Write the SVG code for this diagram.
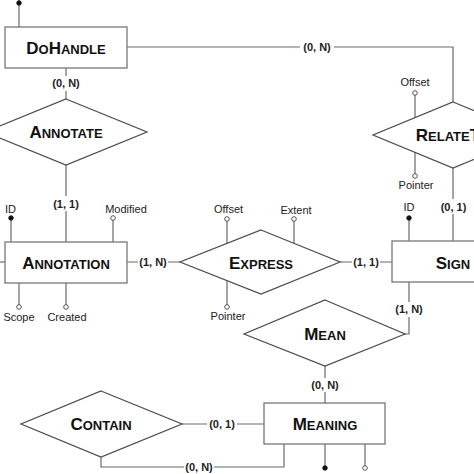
<svg xmlns="http://www.w3.org/2000/svg" width="474" height="474" viewBox="0 0 474 474">
<style>
.bg{fill:#ffffff}
.ent{fill:#ffffff;stroke:#777777;stroke-width:1.3}
.rel{fill:#ffffff;stroke:#4a4a4a;stroke-width:1.2}
.ln{fill:none;stroke:#6a6a6a;stroke-width:1.2}
.name{font-family:"Liberation Sans",Arial,sans-serif;font-weight:bold;fill:#111111;text-anchor:middle}
.b{font-size:17px}
.s{font-size:13px}
.card{font-family:"Liberation Sans",Arial,sans-serif;font-weight:bold;font-size:11px;fill:#222222;text-anchor:middle}
.attr{font-family:"Liberation Sans",Arial,sans-serif;font-size:11px;fill:#222222;text-anchor:middle}
.key{fill:#111111;stroke:#111111;stroke-width:0.8}
.opt{fill:#ffffff;stroke:#555555;stroke-width:1}
</style>
<rect class="bg" x="0" y="0" width="474" height="474"/>
<g id="connectors">
  <path class="ln" d="M19,0 V27"/>
  <path class="ln" d="M127,47 H300 M334,47 H453 V102"/>
  <path class="ln" d="M66,68 V76 M66,91 V99"/>
  <path class="ln" d="M66,165 V196 M66,211 V242"/>
  <path class="ln" d="M0,262 H5"/>
  <path class="ln" d="M127,262 H138 M168,262 H180"/>
  <path class="ln" d="M340,262 H352 M380,262 H392"/>
  <path class="ln" d="M453,167 V199 M453,214 V241"/>
  <path class="ln" d="M409,282 V302 M409,317 V334 H405"/>
  <path class="ln" d="M325,366 V378 M325,392 V403"/>
  <path class="ln" d="M181,424 H207 M237,424 H264"/>
  <path class="ln" d="M101,457 V467 H184 M214,467 H284 V444"/>
  <path class="ln" d="M11,218 V242 M113,218 V242 M19,283 V307 M66,283 V307"/>
  <path class="ln" d="M227,219 V243 M294,219 V243 M227,281 V307"/>
  <path class="ln" d="M415,93 V118 M415,152 V176"/>
  <path class="ln" d="M409,218 V241"/>
  <path class="ln" d="M325,444 V468 M365,444 V468"/>
  <text class="card" x="317" y="51">(0, N)</text>
  <text class="card" x="66" y="87">(0, N)</text>
  <text class="card" x="66" y="207.5">(1, 1)</text>
  <text class="card" x="153" y="266">(1, N)</text>
  <text class="card" x="366" y="266">(1, 1)</text>
  <text class="card" x="453.5" y="210.5">(0, 1)</text>
  <text class="card" x="409" y="313">(1, N)</text>
  <text class="card" x="325" y="388.5">(0, N)</text>
  <text class="card" x="222" y="427.5">(0, 1)</text>
  <text class="card" x="199" y="471">(0, N)</text>
</g>
<g id="dohandle">
  <circle class="key" cx="19" cy="3" r="2.3"/>
  <rect class="ent" x="5" y="27" width="122" height="41"/>
  <text class="name" x="66" y="53.5"><tspan class="b">D</tspan><tspan class="s">O</tspan><tspan class="b">H</tspan><tspan class="s">ANDLE</tspan></text>
</g>
<g id="annotate">
  <polygon class="rel" points="66,99 147,132 66,165 -15,132"/>
  <text class="name" x="66" y="138.3"><tspan class="b">A</tspan><tspan class="s">NNOTATE</tspan></text>
</g>
<g id="relateto">
  <polygon class="rel" points="453,102 533,135 453,168 373,135"/>
  <text class="name" x="453" y="141.3"><tspan class="b">R</tspan><tspan class="s">ELATE</tspan><tspan class="b">T</tspan><tspan class="s">O</tspan></text>
  <circle class="opt" cx="415" cy="93" r="2.3"/>
  <text class="attr" x="415" y="86">Offset</text>
  <circle class="opt" cx="415" cy="176" r="2.3"/>
  <text class="attr" x="416" y="189">Pointer</text>
</g>
<g id="annotation">
  <rect class="ent" x="5" y="242" width="122" height="41"/>
  <text class="name" x="66" y="268.5"><tspan class="b">A</tspan><tspan class="s">NNOTATION</tspan></text>
  <circle class="key" cx="11" cy="218" r="2.3"/>
  <text class="attr" x="10.5" y="213">ID</text>
  <circle class="opt" cx="113" cy="218" r="2.3"/>
  <text class="attr" x="126" y="213">Modified</text>
  <circle class="opt" cx="19" cy="307" r="2.3"/>
  <text class="attr" x="19" y="321">Scope</text>
  <circle class="opt" cx="66" cy="307" r="2.3"/>
  <text class="attr" x="67" y="321">Created</text>
</g>
<g id="express">
  <polygon class="rel" points="261,230 340,262 261,294 180,262"/>
  <text class="name" x="261" y="268.5"><tspan class="b">E</tspan><tspan class="s">XPRESS</tspan></text>
  <circle class="opt" cx="227" cy="219" r="2.3"/>
  <text class="attr" x="228.5" y="213">Offset</text>
  <circle class="opt" cx="294" cy="219" r="2.3"/>
  <text class="attr" x="296" y="214">Extent</text>
  <circle class="opt" cx="227" cy="307" r="2.3"/>
  <text class="attr" x="228" y="320">Pointer</text>
</g>
<g id="sign">
  <rect class="ent" x="392" y="241" width="122" height="41"/>
  <text class="name" x="453" y="268.5"><tspan class="b">S</tspan><tspan class="s">IGN</tspan></text>
  <circle class="key" cx="409" cy="218" r="2.3"/>
  <text class="attr" x="409" y="211">ID</text>
</g>
<g id="mean">
  <polygon class="rel" points="325,300 405,334 325,366 244,334"/>
  <text class="name" x="325" y="339.5"><tspan class="b">M</tspan><tspan class="s">EAN</tspan></text>
</g>
<g id="meaning">
  <rect class="ent" x="264" y="403" width="121" height="41"/>
  <text class="name" x="325" y="430"><tspan class="b">M</tspan><tspan class="s">EANING</tspan></text>
  <circle class="key" cx="325" cy="468" r="2.3"/>
  <circle class="opt" cx="365" cy="468" r="2.3"/>
</g>
<g id="contain">
  <polygon class="rel" points="101,391 182,424 101,457 21,424"/>
  <text class="name" x="101" y="430.3"><tspan class="b">C</tspan><tspan class="s">ONTAIN</tspan></text>
</g>
</svg>
